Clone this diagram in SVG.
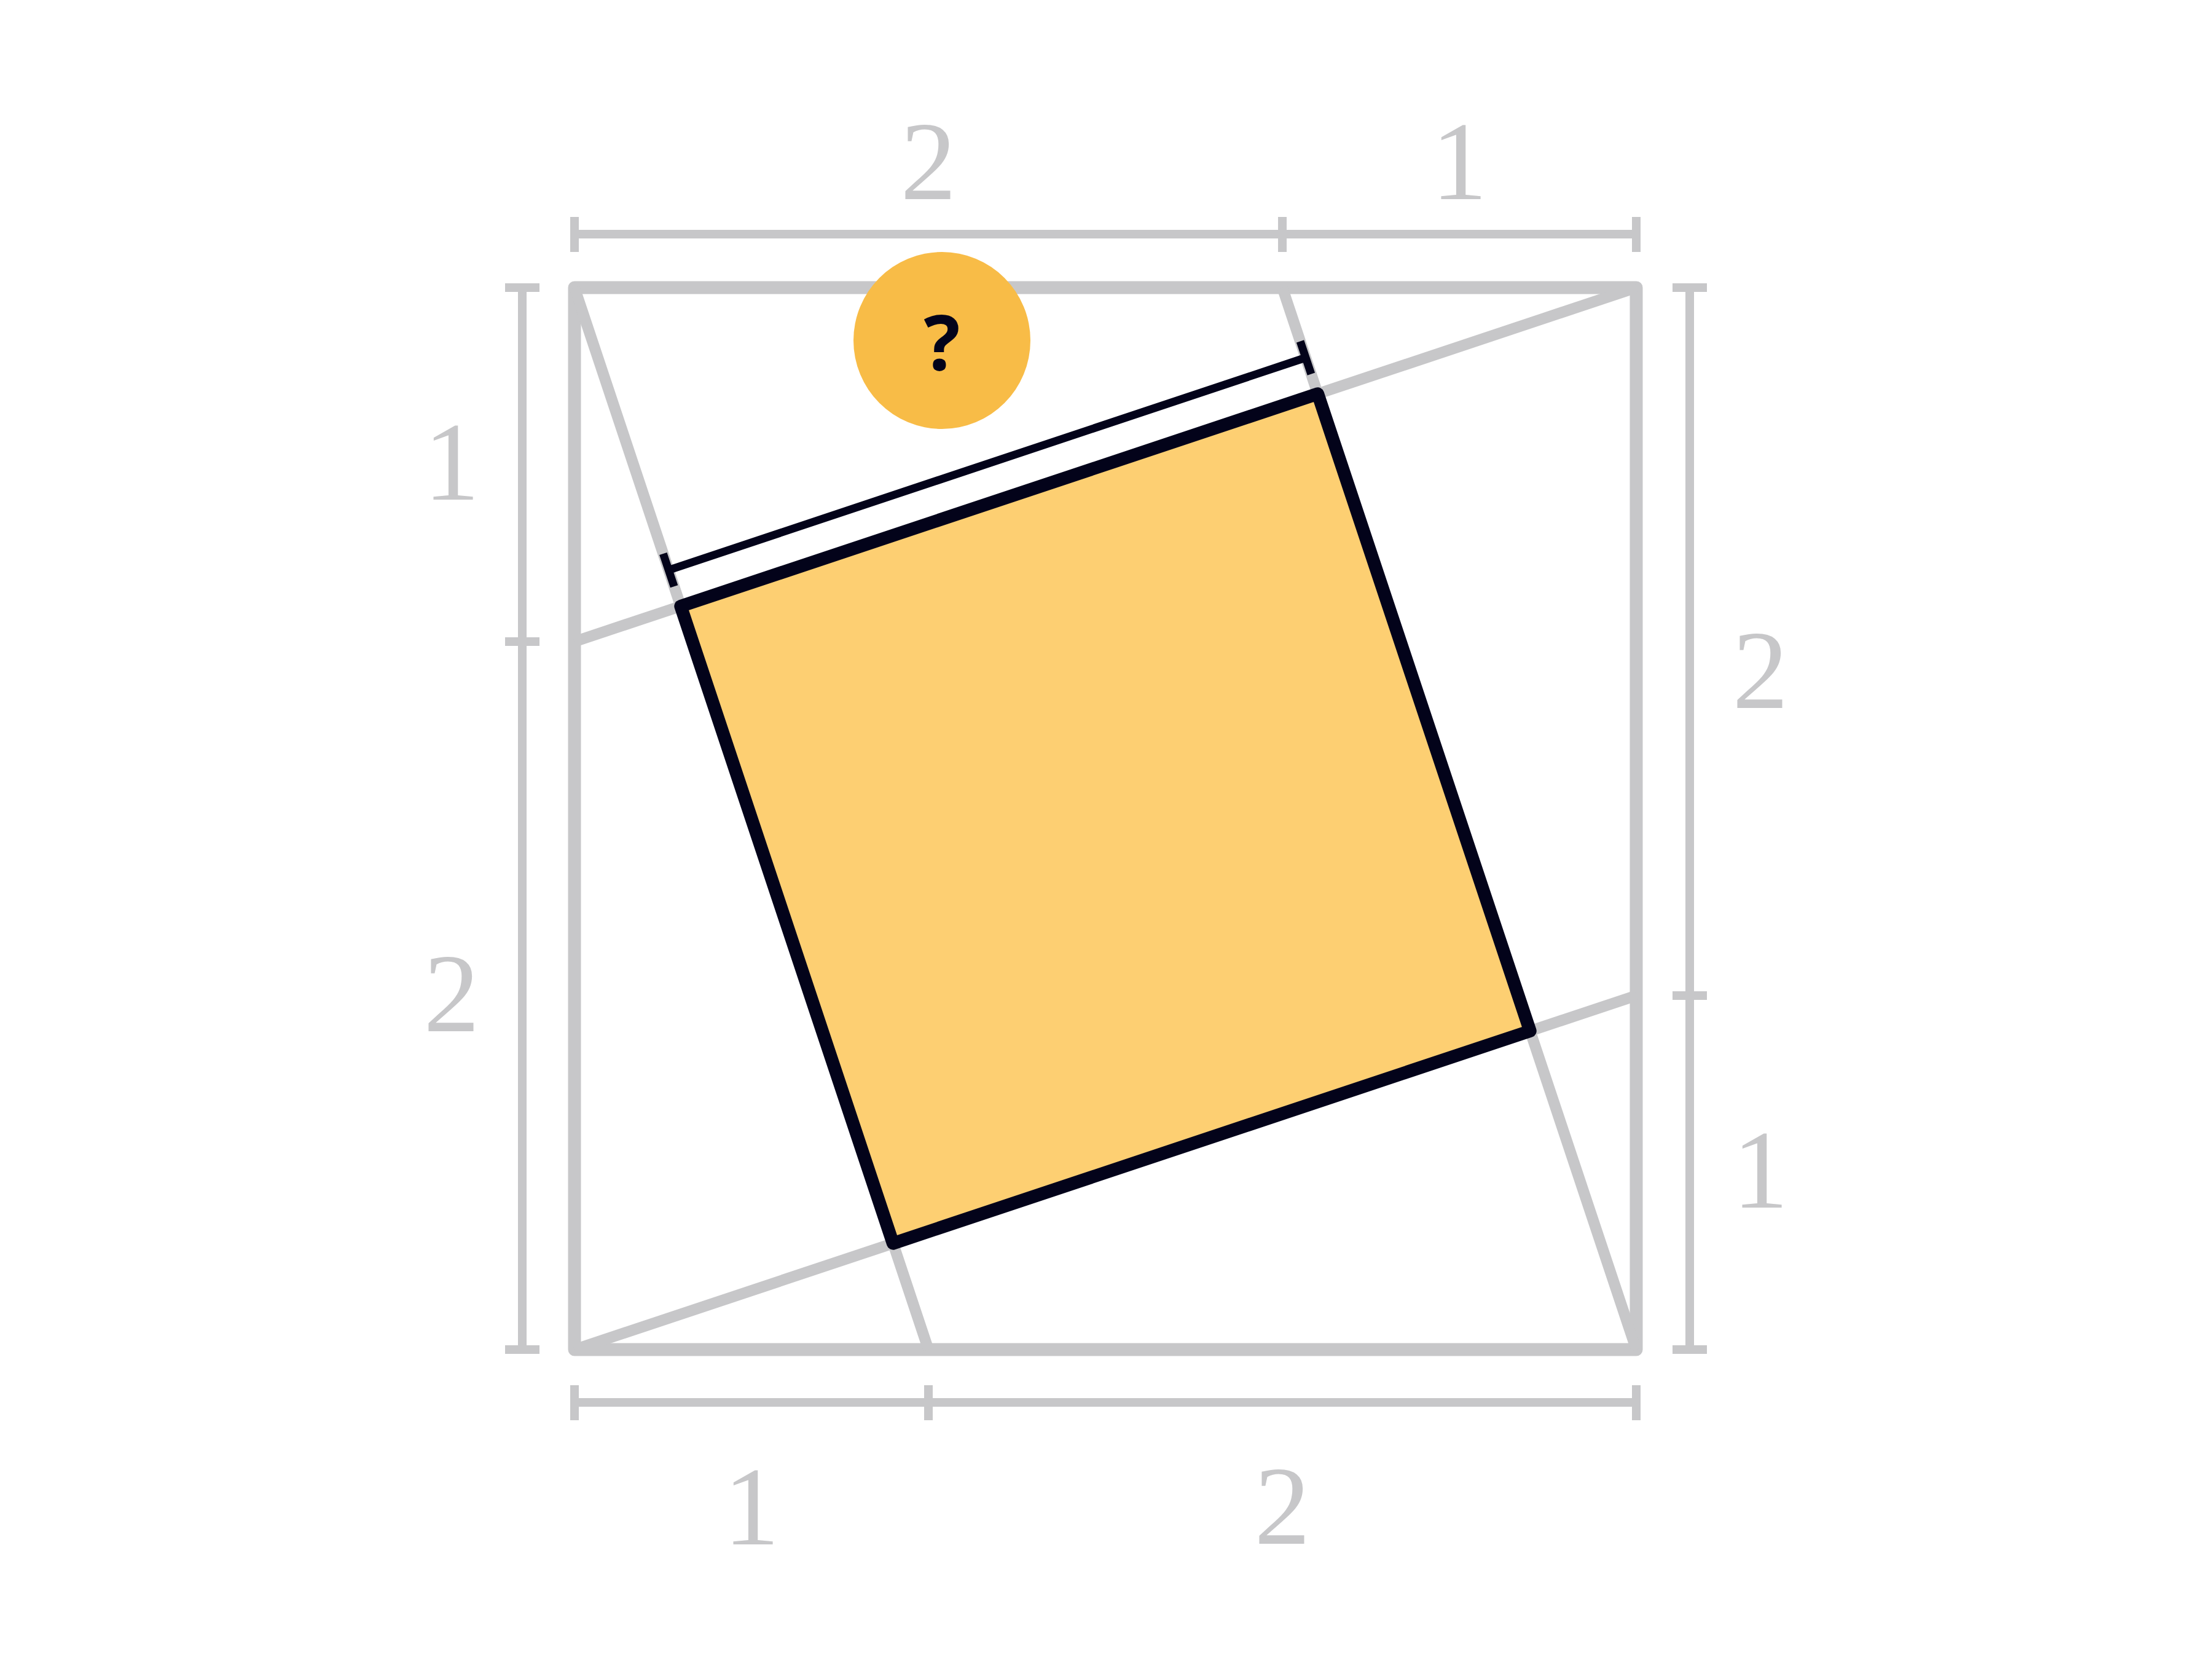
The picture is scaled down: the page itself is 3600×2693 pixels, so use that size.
<svg xmlns="http://www.w3.org/2000/svg" width="3600" height="2693" viewBox="0 0 3600 2693">
<style>
.dim{stroke:#C7C7C9;stroke-width:14;fill:none}
.frame{stroke:#C7C7C9;stroke-width:21;fill:none;stroke-linejoin:round}
.diag{stroke:#C7C7C9;stroke-width:18;fill:none}
.lbl{font-family:"Liberation Serif","DejaVu Serif",serif;font-size:182px;fill:#C7C7C9;text-anchor:middle}
.inner{fill:#FDCF72;stroke:#03031A;stroke-width:21;stroke-linejoin:round}
.bdim{stroke:#03031A;stroke-width:13;fill:none}
</style>
<rect width="3600" height="2693" fill="#FFFFFF"/>
<g id="dimensions">
<g id="dim-top">
<path class="dim" d="M935 381H2663M935 353V410M2087 353V410M2663 353V410"/>
<text class="lbl" x="1511" y="324">2</text>
<text class="lbl" x="2375" y="324">1</text>
</g>
<g id="dim-bottom">
<path class="dim" d="M935 2282H2663M935 2254V2311M1511 2254V2311M2663 2254V2311"/>
<text class="lbl" x="1223" y="2513">1</text>
<text class="lbl" x="2087" y="2512">2</text>
</g>
<g id="dim-left">
<path class="dim" d="M850 468V2196M822 468H878M822 1044H878M822 2196H878"/>
<text class="lbl" x="735" y="813">1</text>
<text class="lbl" x="735" y="1678">2</text>
</g>
<g id="dim-right">
<path class="dim" d="M2750 468V2196M2722 468H2778M2722 1620H2778M2722 2196H2778"/>
<text class="lbl" x="2865" y="1152">2</text>
<text class="lbl" x="2865" y="1965">1</text>
</g>
</g>
<g id="outer-square">
<rect class="frame" x="935" y="468" width="1728" height="1728"/>
</g>
<g id="connectors">
<line class="diag" x1="935" y1="468" x2="1511" y2="2196"/>
<line class="diag" x1="2663" y1="468" x2="935" y2="1044"/>
<line class="diag" x1="2663" y1="2196" x2="2087" y2="468"/>
<line class="diag" x1="935" y1="2196" x2="2663" y2="1620"/>
</g>
<g id="inner-square">
<polygon class="inner" points="1107.8,986.4 2144.6,640.8 2490.2,1677.6 1453.4,2023.2"/>
</g>
<g id="side-measure">
<path class="bdim" d="M1088.2 927.6L2125 582M1097.1 954.2L1079.3 901M2133.9 608.6L2116.1 555.4"/>
</g>
<g id="question">
<circle cx="1533" cy="554" r="144" fill="#F8BC47"/>
<text x="1533" y="602" font-family="'Open Sans','Noto Sans',sans-serif" font-weight="bold" font-size="124" fill="#03031A" text-anchor="middle">?</text>
</g>
</svg>
